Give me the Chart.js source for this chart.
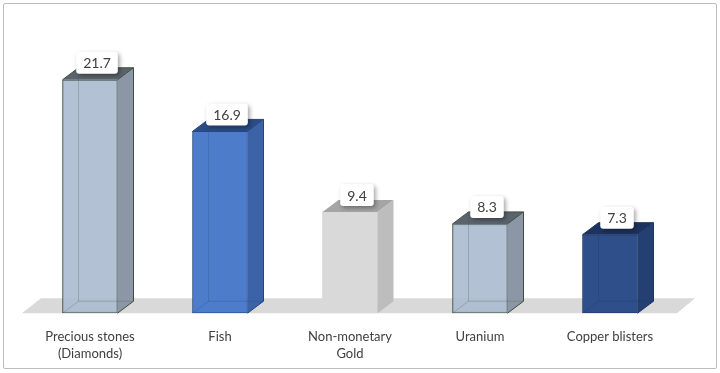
<!DOCTYPE html>
<html>
<head>
<meta charset="utf-8">
<script src="https://cdn.jsdelivr.net/npm/chart.js@4.4.1/dist/chart.umd.min.js"></script>
<style>
  html, body { margin: 0; padding: 0; background: #ffffff; }
  #wrap { position: relative; width: 720px; height: 373px; }
  #frame { position: absolute; left: 3px; top: 3px; width: 712px; height: 364px;
           border: 1px solid #bdbdbd; border-radius: 2px; pointer-events: none; }
</style>
</head>
<body>
<div id="wrap">
  <canvas id="chartExports"></canvas>
  <div id="frame"></div>
</div>
<script>
// data
const categories = [
  ['Precious stones', '(Diamonds)'],
  'Fish',
  ['Non-monetary', 'Gold'],
  'Uranium',
  'Copper blisters'
];
const values = [21.7, 16.9, 9.4, 8.3, 7.3];

// colours per bar: front, side, top, edge
const frontColors = ['rgba(170,186,207,0.9)', '#4d7ccb', '#d9d9d9', 'rgba(170,186,207,0.9)', '#2f4f8b'];
const sideColors  = ['#8b97a6', '#3c63a8', '#bdbdbd', '#8b97a6', '#243f72'];
const topColors   = ['#5b646d', '#2b4c86', '#a5a5a5', '#5b646d', '#1c335f'];
const edgeColors  = ['#3f4f3c', '#27437e', '#d9d9d9', '#3f4f3c', '#1d3561'];
const edgeWidths  = [1, 1, 0, 1, 1];

const DX = 16, DY = 12;

const threeD = {
  id: 'threeD',
  beforeDatasetsDraw(chart) {
    const { ctx, chartArea, scales } = chart;
    const y0 = scales.y.getPixelForValue(0);
    ctx.save();
    ctx.fillStyle = '#d9d9d9';
    ctx.beginPath();
    ctx.moveTo(chartArea.left - 3, y0);
    ctx.lineTo(chartArea.left + 16, y0 - 15);
    ctx.lineTo(chartArea.right + 20, y0 - 15);
    ctx.lineTo(chartArea.right + 2, y0);
    ctx.closePath();
    ctx.fill();
    ctx.restore();
  },
  afterDatasetsDraw(chart) {
    const { ctx } = chart;
    const meta = chart.getDatasetMeta(0);
    meta.data.forEach(function(bar, i) {
      const p = bar.getProps(['x', 'y', 'base', 'width'], true);
      const l = p.x - p.width / 2, r = p.x + p.width / 2;
      const t = p.y, b = p.base;
      ctx.save();
      // right side
      ctx.fillStyle = sideColors[i];
      ctx.beginPath();
      ctx.moveTo(r, t); ctx.lineTo(r + DX, t - DY);
      ctx.lineTo(r + DX, b - DY); ctx.lineTo(r, b);
      ctx.closePath(); ctx.fill();
      // top
      ctx.fillStyle = topColors[i];
      ctx.beginPath();
      ctx.moveTo(l, t); ctx.lineTo(l + DX, t - DY);
      ctx.lineTo(r + DX, t - DY); ctx.lineTo(r, t);
      ctx.closePath(); ctx.fill();
      if (edgeWidths[i] > 0) {
        ctx.strokeStyle = edgeColors[i];
        ctx.lineWidth = 1;
        ctx.beginPath();
        ctx.moveTo(l, t); ctx.lineTo(l + DX, t - DY);
        ctx.lineTo(r + DX, t - DY); ctx.lineTo(r + DX, b - DY); ctx.lineTo(r, b);
        ctx.moveTo(r + DX, t - DY); ctx.lineTo(r, t);
        ctx.stroke();
        // hidden edges seen through the glass
        ctx.globalAlpha = 0.25;
        ctx.beginPath();
        ctx.moveTo(l + DX, t - DY); ctx.lineTo(l + DX, b - DY);
        ctx.lineTo(r + DX, b - DY);
        ctx.moveTo(l, b); ctx.lineTo(l + DX, b - DY);
        ctx.stroke();
      }
      ctx.restore();
    });
  },
  afterDraw(chart) {
    const { ctx } = chart;
    const meta = chart.getDatasetMeta(0);
    ctx.save();
    ctx.font = '14px Lato, sans-serif';
    ctx.textAlign = 'center';
    ctx.textBaseline = 'middle';
    meta.data.forEach(function(bar, i) {
      const txt = values[i].toFixed(1);
      const w = ctx.measureText(txt).width + 14;
      const h = 22;
      const cx = bar.x + 7, cy = bar.y - 17;
      ctx.save();
      ctx.shadowColor = 'rgba(0,0,0,0.35)';
      ctx.shadowBlur = 4;
      ctx.shadowOffsetX = 2;
      ctx.shadowOffsetY = 2;
      ctx.fillStyle = '#ffffff';
      ctx.beginPath();
      ctx.roundRect(cx - w / 2, cy - h / 2, w, h, 3);
      ctx.fill();
      ctx.restore();
      ctx.fillStyle = '#404040';
      ctx.fillText(txt, cx, cy + 1);
    });
    ctx.restore();
  }
};

new Chart(document.getElementById('chartExports'), {
  type: 'bar',
  data: {
    labels: categories,
    datasets: [{
      data: values,
      backgroundColor: frontColors,
      borderColor: edgeColors,
      borderWidth: edgeWidths,
      borderSkipped: false,
      barThickness: 55
    }]
  },
  options: {
    responsive: true,
    maintainAspectRatio: false,
    animation: false,
    layout: { padding: { left: 25, right: 45, top: 12, bottom: -4 } },
    plugins: {
      legend: { display: false },
      tooltip: { enabled: false }
    },
    scales: {
      y: {
        display: false,
        min: 0,
        max: 28
      },
      x: {
        grid: { display: false, drawTicks: false },
        border: { display: false },
        ticks: {
          color: '#404040',
          padding: 15,
          maxRotation: 0,
          autoSkip: false,
          font: { family: 'Lato', size: 13, lineHeight: 1.3 }
        }
      }
    }
  },
  plugins: [threeD]
});
</script>
</body>
</html>
